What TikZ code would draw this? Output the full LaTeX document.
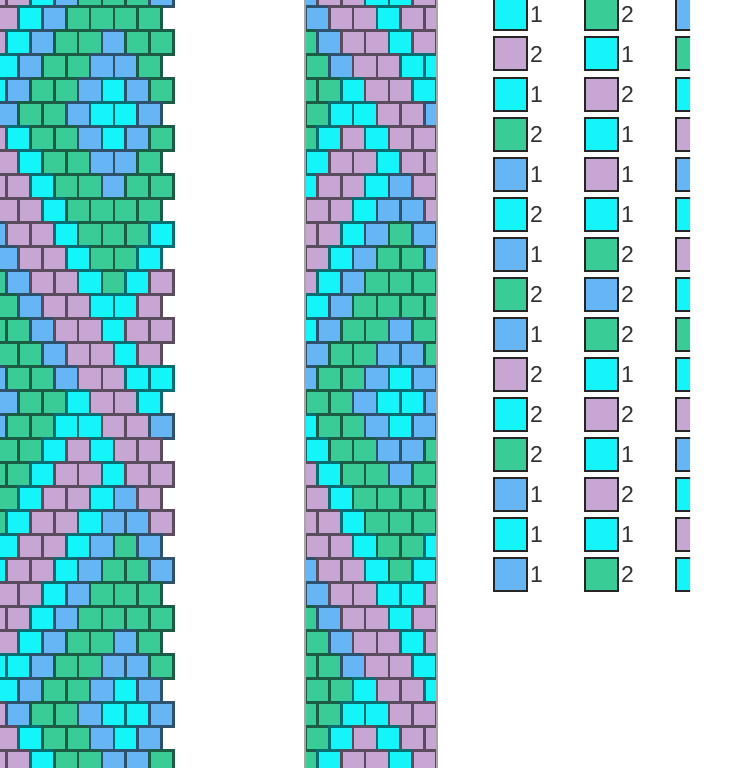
\documentclass[tikz,border=0pt]{standalone}
\usepackage{fontspec}
\usepackage{xcolor}
\usepackage{tikz}
\newfontfamily\keyfont{Liberation Sans}
\definecolor{beadG}{HTML}{3ACC96}
\definecolor{beadP}{HTML}{C8A6D4}
\definecolor{beadB}{HTML}{66B6F5}
\definecolor{beadC}{HTML}{14F5FA}

\begin{document}
\begin{tikzpicture}[
  x=1pt, y=-1pt,
  bead/.style={line width=2.6pt},
  keybox/.style={rectangle, draw=black!85, line width=2pt, minimum size=33pt, inner sep=0pt},
  keynum/.style={anchor=base west, inner sep=0pt, text=black!80, font=\keyfont\fontsize{23}{23}\selectfont},
  frame/.style={draw=black!35, line width=2pt}
]
\useasboundingbox (0,0) rectangle (750,768);

% LEFT STRIP
\begin{scope}
\clip (0,0) rectangle (180,768);
\foreach \row [count=\r from 0] in {
  {P,P,C,B,G,G,G,B},{P,C,B,G,G,G,G},{P,C,B,G,G,B,G,G},{C,B,G,G,B,B,G},
  {C,B,G,G,B,C,B,G},{B,G,G,B,C,C,B},{P,C,G,G,B,C,B,G},{P,C,G,G,B,B,G},
  {P,P,C,G,G,B,G,G},{P,P,C,G,G,G,G},{B,P,P,C,G,G,G,C},{B,P,P,C,G,G,C},
  {G,B,P,P,C,G,C,P},{G,B,P,P,C,C,P},{G,G,B,P,P,C,P,P},{G,G,B,P,P,C,P},
  {B,G,G,B,P,P,C,C},{B,G,G,C,P,P,C},{B,G,G,C,C,P,P,B},{G,G,C,P,C,P,P},
  {G,G,C,P,P,C,P,P},{G,C,P,P,C,B,P},{G,C,P,P,C,B,B,P},{C,P,P,C,B,G,B},
  {C,P,P,C,B,G,G,B},{P,P,C,B,G,G,G},{P,P,C,B,G,G,G,G},{P,C,B,G,G,B,G},
  {C,C,B,G,G,B,B,G},{C,B,G,G,B,C,B},{P,B,G,G,B,C,C,B},{P,C,G,G,B,C,B},
  {P,P,C,G,G,B,B,G}} {
  \pgfmathsetmacro\xo{-17.1+11.9*mod(\r,2)}
  \foreach \c [count=\i from 0] in \row
    \draw[bead, fill=bead\c, draw=bead\c!45!black] (\xo+23.8*\i, -17.3+24*\r) rectangle ++(23.8,24);
}
\end{scope}

% MIDDLE STRIP
\begin{scope}
\clip (305,0) rectangle (437,768);
\foreach \row [count=\r from 0] in {
  {B,P,P,C,C,P},{B,P,P,C,P,P},{G,B,P,P,C,P},{G,B,P,P,C,C},
  {G,G,C,P,P,C},{G,C,C,P,P,B},{G,C,P,C,P,P},{C,P,P,C,P,P},
  {C,P,P,C,B,P},{P,P,C,B,B,P},{P,P,C,B,G,B},{P,C,B,G,G,B},
  {P,C,B,G,G,G},{C,B,G,G,G,G},{C,B,G,G,B,G},{B,G,G,B,B,G},
  {B,G,G,B,C,B},{G,G,B,C,C,B},{C,G,G,B,C,B},{C,G,G,B,B,G},
  {P,C,G,G,B,G},{P,C,G,G,G,G},{P,P,C,G,G,G},{P,P,C,G,G,C},
  {B,P,P,C,G,C},{B,P,P,C,C,P},{G,B,P,P,C,P},{G,B,P,P,C,P},
  {G,G,B,P,P,C},{G,G,C,P,P,C},{G,G,C,C,P,P},{G,C,P,C,P,P},
  {G,C,P,P,C,P}} {
  \pgfmathsetmacro\xo{293.6+11.9*mod(\r,2)}
  \foreach \c [count=\i from 0] in \row
    \draw[bead, fill=bead\c, draw=bead\c!45!black] (\xo+23.8*\i, -17.3+24*\r) rectangle ++(23.8,24);
}
\end{scope}
\draw[frame] (305,0) -- (305,768);
\draw[frame] (437,0) -- (437,768);

% WORD CHART
\begin{scope}
\clip (480,0) rectangle (690,768);
\foreach \c/\n [count=\k from 0] in {C/1,P/2,C/1,G/2,B/1,C/2,B/1,G/2,B/1,P/2,C/2,G/2,B/1,C/1,B/1} {
  \node[keybox, fill=bead\c] (ka\k) at (510, 14+40*\k) {};
  \node[keynum] (na\k) at (530, 22.5+40*\k) {\n};
}
\foreach \c/\n [count=\k from 0] in {G/2,C/1,P/2,C/1,P/1,C/1,G/2,B/2,G/2,C/1,P/2,C/1,P/2,C/1,G/2} {
  \node[keybox, fill=bead\c] (kb\k) at (601, 14+40*\k) {};
  \node[keynum] (nb\k) at (621, 22.5+40*\k) {\n};
}
\foreach \c [count=\k from 0] in {B,G,C,P,B,C,P,C,G,C,P,B,C,P,C}
  \node[keybox, fill=bead\c] (kc\k) at (692, 14+40*\k) {};
\end{scope}

\end{tikzpicture}
\end{document}
